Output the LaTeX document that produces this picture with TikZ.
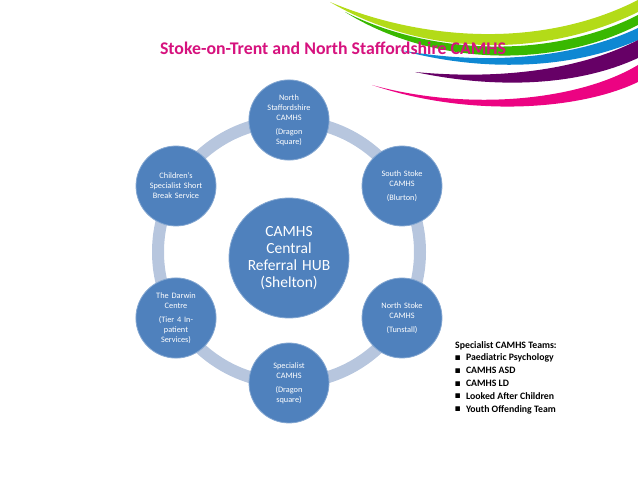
\documentclass[tikz,border=0pt]{standalone}
\usepackage{fontspec}
\setmainfont{Carlito}
\usepackage{amssymb}
\definecolor{hubblue}{HTML}{4F81BD}
\definecolor{ringblue}{HTML}{B7C6DE}
\definecolor{titlepink}{HTML}{D6127E}
\begin{document}
\begin{tikzpicture}
  [x=1pt, y=-1pt,
   unit/.style={circle, fill=hubblue, draw=hubblue!70!white, thick, minimum size=80pt, inner sep=0pt, text=white, font=\fontsize{8.3}{10}\selectfont, align=center, text width=62pt},
   hub/.style={unit, minimum size=120pt, font=\fontsize{15.5}{17}\selectfont, text width=95pt},
   ring/.style={draw=ringblue, line width=12pt},
   swoosh/.style={draw=none}]
  \useasboundingbox (0,0) rectangle (638,478);
  % Decorative ribbons
  \fill[swoosh, fill=yellow!70!green] (330,2) .. controls (420,40) and (540,50) .. (638,0) -- (638,12) .. controls (540,60) and (420,55) .. (330,2);
  \fill[swoosh, fill=green!60!black!70!lime] (345,12) .. controls (430,55) and (550,60) .. (638,15) -- (638,25) .. controls (550,70) and (430,65) .. (345,12);
  \fill[swoosh, fill=cyan!70!blue] (400,50) .. controls (480,65) and (570,60) .. (638,28) -- (638,40) .. controls (570,70) and (480,72) .. (400,50);
  \fill[swoosh, fill=violet!80!black] (415,72) .. controls (500,80) and (580,70) .. (638,40) -- (638,58) .. controls (580,85) and (500,90) .. (415,72);
  \fill[swoosh, fill=magenta!90!red] (372,85) .. controls (470,112) and (580,100) .. (638,65) -- (638,82) .. controls (580,110) and (470,118) .. (372,85);
  % Title
  \node[text=titlepink, font=\fontsize{17.8}{20}\selectfont\bfseries] (title) at (333,48) {Stoke-on-Trent and North Staffordshire CAMHS};
  % Ring
  \draw[ring] (289,252) circle (131);
  % Nodes
  \node[hub] (hub) at (289,258) {CAMHS\\Central\\Referral HUB\\(Shelton)};
  \node[unit] (n) at (289,120) {North\\Staffordshire\\CAMHS\\[4pt](Dragon\\Square)};
  \node[unit] (ss) at (402,186) {South Stoke\\CAMHS\\[4pt](Blurton)};
  \node[unit] (ns) at (402,318) {North Stoke\\CAMHS\\[4pt](Tunstall)};
  \node[unit] (sp) at (289,383) {Specialist\\CAMHS\\[4pt](Dragon\\square)};
  \node[unit] (dc) at (176,318) {The Darwin\\Centre\\[4pt](Tier 4 In-\\patient\\Services)};
  \node[unit] (cs) at (176,186) {Children’s\\Specialist Short\\Break Service};
  % Team list
  \node[anchor=north west, align=left, font=\fontsize{9.8}{12.8}\selectfont\bfseries, inner sep=0pt] (teams) at (455,341)
    {Specialist CAMHS Teams:\\
     \raisebox{0.4pt}{\scalebox{0.7}{$\blacksquare$}}\,\, Paediatric Psychology\\
     \raisebox{0.4pt}{\scalebox{0.7}{$\blacksquare$}}\,\, CAMHS ASD\\
     \raisebox{0.4pt}{\scalebox{0.7}{$\blacksquare$}}\,\, CAMHS LD\\
     \raisebox{0.4pt}{\scalebox{0.7}{$\blacksquare$}}\,\, Looked After Children\\
     \raisebox{0.4pt}{\scalebox{0.7}{$\blacksquare$}}\,\, Youth Offending Team};
\end{tikzpicture}
\end{document}
